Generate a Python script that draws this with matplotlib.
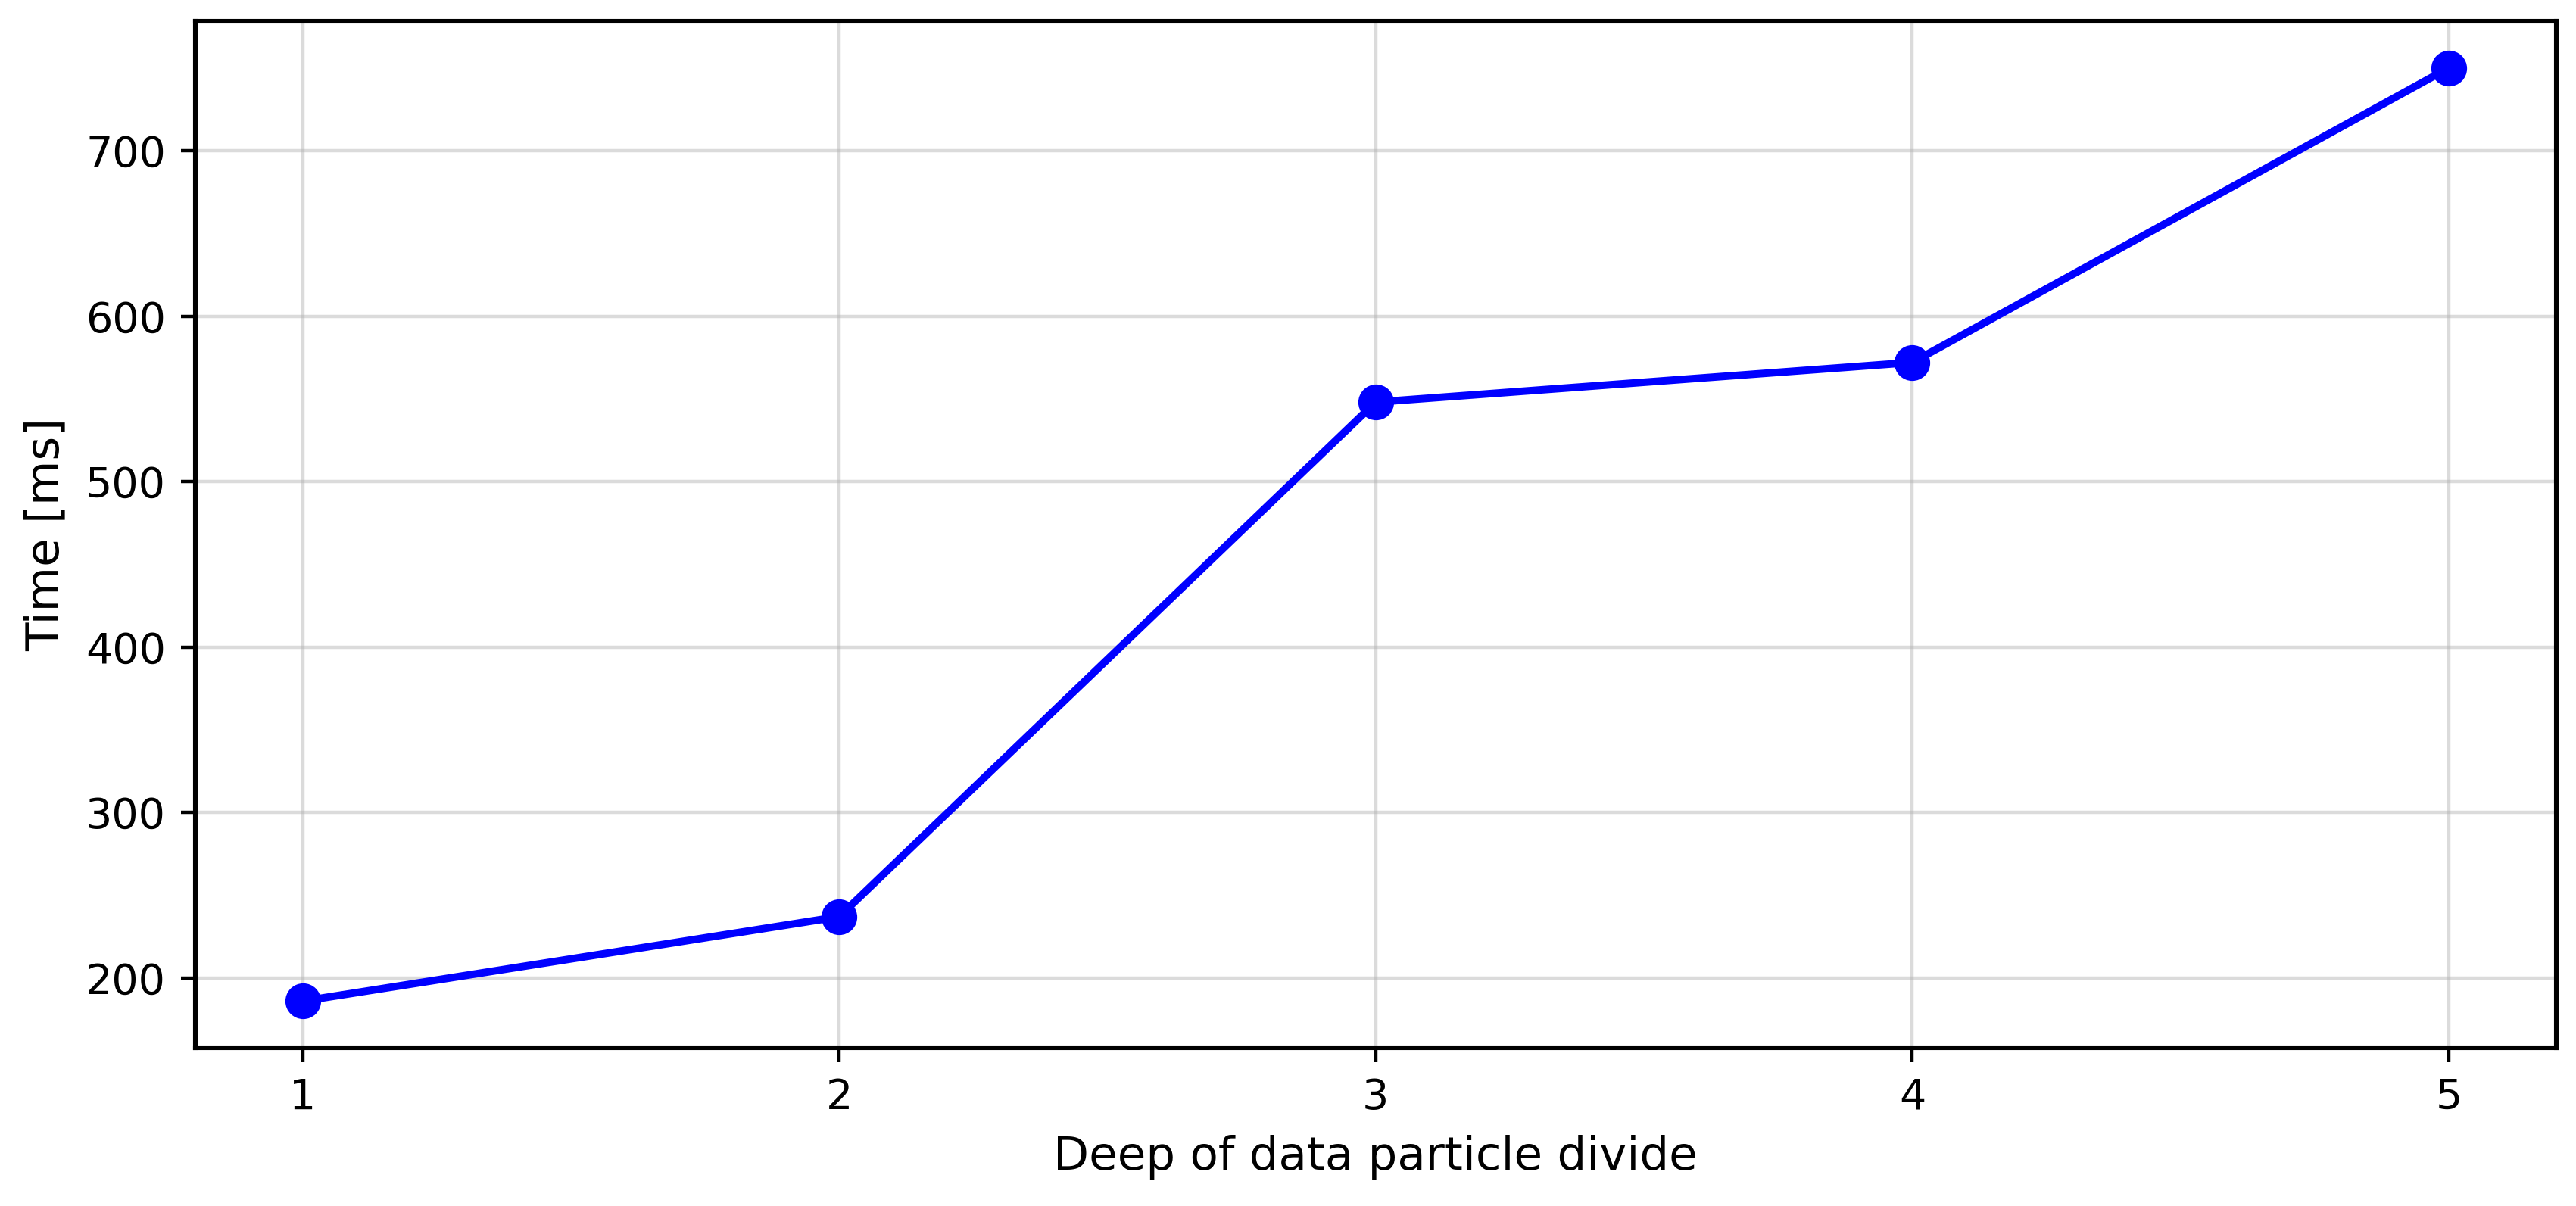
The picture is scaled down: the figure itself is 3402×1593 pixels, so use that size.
import numpy as np
import matplotlib
matplotlib.use('Agg')
import matplotlib.pyplot as plt

# Deep of data particle divide vs. time
depth = [1, 2, 3, 4, 5]
time_ms = [186, 237, 548, 572, 750]

plt.rcParams['font.family'] = ['DejaVu Sans']
plt.rcParams['font.size'] = 10

fig = plt.figure(figsize=(8.505, 3.9825), dpi=400)
ax = fig.add_axes([0.0758, 0.1312, 0.9165, 0.8512])

ax.plot(depth, time_ms, color='blue', marker='o', linewidth=1.8, markersize=7.5)
ax.set_xticks(depth)
ax.set_xlabel('Deep of data particle divide', fontsize=11)
ax.set_ylabel('Time [ms]', fontsize=11)
ax.grid(True, alpha=0.45)
for s in ax.spines.values():
    s.set_linewidth(1.1)

fig.savefig('out.png', dpi=400)
